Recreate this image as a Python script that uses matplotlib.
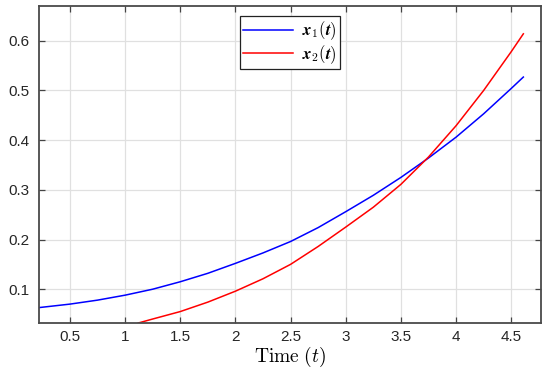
import matplotlib
matplotlib.use("Agg")
import matplotlib.pyplot as plt

# Data
t1 = [0.22, 0.5, 0.75, 1.0, 1.25, 1.5, 1.75, 2.0, 2.25, 2.5, 2.75, 3.0,
      3.25, 3.5, 3.75, 4.0, 4.25, 4.5, 4.61]
x1 = [0.063, 0.070, 0.078, 0.088, 0.100, 0.115, 0.132, 0.152, 0.173, 0.196,
      0.224, 0.256, 0.289, 0.325, 0.364, 0.406, 0.453, 0.504, 0.527]

t2 = [1.12, 1.25, 1.5, 1.75, 2.0, 2.25, 2.5, 2.75, 3.0, 3.25, 3.5, 3.75,
      4.0, 4.25, 4.5, 4.61]
x2 = [0.032, 0.040, 0.055, 0.074, 0.096, 0.121, 0.150, 0.186, 0.225, 0.265,
      0.311, 0.366, 0.429, 0.500, 0.578, 0.614]

xticks = [0.5, 1, 1.5, 2, 2.5, 3, 3.5, 4, 4.5]
xtick_labels = ["0.5", "1", "1.5", "2", "2.5", "3", "3.5", "4", "4.5"]
yticks = [0.1, 0.2, 0.3, 0.4, 0.5, 0.6]
ytick_labels = ["0.1", "0.2", "0.3", "0.4", "0.5", "0.6"]

plt.rcParams['mathtext.fontset'] = 'cm'
plt.rcParams['font.family'] = ['Liberation Sans', 'DejaVu Sans']

fig = plt.figure(figsize=(5.5, 3.7), dpi=100)
ax = fig.add_axes([39/550, 1-323/370, (541-39)/550, (323-6)/370])

ax.plot(t1, x1, color='#0000ff', lw=1.1, label=r'$\mathbfit{x}_\mathbf{1}\mathbf{(}\mathbfit{t}\mathbf{)}$')
ax.plot(t2, x2, color='#ff0000', lw=1.1, label=r'$\mathbfit{x}_\mathbf{2}\mathbf{(}\mathbfit{t}\mathbf{)}$')

ax.set_xlim(0.22, 4.77)
ax.set_ylim(0.032, 0.670)
ax.set_xticks(xticks)
ax.set_xticklabels(xtick_labels)
ax.set_yticks(yticks)
ax.set_yticklabels(ytick_labels)

ax.grid(True, color='#e0e0e0', lw=0.9)
ax.set_axisbelow(True)
for s in ax.spines.values():
    s.set_color('#4a4a4a')
    s.set_linewidth(1.3)
ax.tick_params(direction='in', top=True, right=True, length=4, width=0.9,
               color='#444444', labelsize=11, labelcolor='#262626')
ax.tick_params(axis='x', pad=5)
ax.tick_params(axis='y', pad=7)

ax.set_xlabel(r'$\mathrm{Time}\ (t)$', fontsize=14, va='center')
ax.xaxis.set_label_coords(0.5, (323 - 357) / 317)

leg = ax.legend(loc='upper center', bbox_to_anchor=(0.5, 0.968), fontsize=12,
                frameon=True, fancybox=False, framealpha=1, edgecolor='#222222',
                handlelength=3.0, borderpad=0.2, labelspacing=0.05,
                handletextpad=0.5, borderaxespad=0)
leg.get_frame().set_linewidth(0.9)

fig.savefig('out.png', dpi=100)
